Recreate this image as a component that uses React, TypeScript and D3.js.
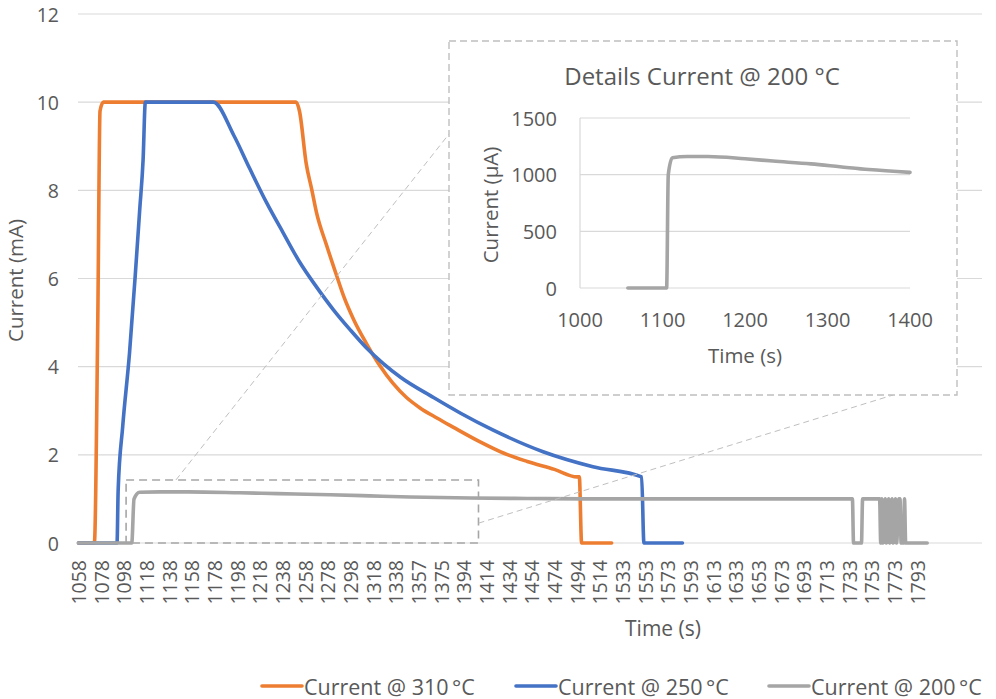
import * as React from 'react';
import * as d3 from 'd3';

// category labels on the time axis (Excel shows every 20th sample)
const tickTimes = [
    1058, 1078, 1098, 1118, 1138, 1158, 1178, 1198, 1218, 1238, 1258, 1278, 1298, 1318, 1338,
    1357, 1375, 1394, 1414, 1434, 1454, 1474, 1494, 1514, 1533, 1553, 1573, 1593, 1613, 1633,
    1653, 1673, 1693, 1713, 1733, 1753, 1773, 1793,
];
const yTicks = [0, 2, 4, 6, 8, 10, 12];

// [time (s), current (mA)]
const current310: [number, number][] = [
    [1058, 0], [1072, 0], [1075, 5], [1077, 9.8], [1080, 10], [1250, 10], [1253, 9.8], [1259, 8.6],
    [1264, 8.0], [1268, 7.5], [1277, 6.75], [1286, 6.05], [1292, 5.6], [1301, 5.06], [1312, 4.53],
    [1324, 4.02], [1347, 3.3], [1358, 3.07], [1372, 2.83], [1385, 2.63], [1408, 2.3], [1430, 2.03],
    [1450, 1.85], [1474, 1.67], [1494, 1.5], [1496, 1.5], [1498, 0], [1524, 0],
];
const current250: [number, number][] = [
    [1058, 0], [1092, 0], [1093, 1.2], [1097, 2.64], [1103, 4.3], [1108, 6.04], [1112, 7.55],
    [1115, 8.69], [1117, 10], [1177, 10], [1195, 9.25], [1209, 8.5], [1224, 7.72], [1239, 7.02],
    [1253, 6.38], [1268, 5.81], [1283, 5.29], [1298, 4.83], [1312, 4.43], [1327, 4.07],
    [1342, 3.76], [1369, 3.3], [1391, 2.95], [1420, 2.56], [1464, 2.07], [1508, 1.73],
    [1550, 1.5], [1552, 0], [1586, 0],
];
const current200: [number, number][] = [
    [1058, 0], [1105, 0], [1107, 1.0], [1112, 1.15], [1130, 1.16], [1155, 1.16], [1200, 1.14],
    [1234, 1.12], [1280, 1.095], [1315, 1.07], [1350, 1.045], [1400, 1.02], [1450, 1.01],
    [1500, 1.0], [1736, 1.0], [1737, 0], [1744, 0], [1745, 1.0], [1760, 1.0], [1761, 0],
    [1762, 1.0], [1763, 0], [1765, 1.0], [1766, 0], [1768, 1.0], [1769, 0], [1771, 1.0],
    [1772, 0], [1774, 1.0], [1775, 0], [1777, 1.0], [1778, 1.0], [1779, 0], [1781, 0],
    [1782, 1.0], [1783, 0], [1802, 0],
];

const seriesNames = ['Current @ 310\u2009°C', 'Current @ 250\u2009°C', 'Current @ 200\u2009°C'];
const seriesColors = ['#ED7D31', '#4472C4', '#A5A5A5'];

// inset axis
const insetXTicks = [1000, 1100, 1200, 1300, 1400];
const insetYTicks = [0, 500, 1000, 1500];
// zoom window drawn on the main chart [t0, t1, top mA]
const zoomWindow = [1100, 1407, 1.43];

const W = 996;
const H = 699;
const font = '"Open Sans", "Noto Sans", sans-serif';
const textColor = '#595959';
const gridColor = '#D9D9D9';

const App: React.FunctionComponent = () => {
    const left = 78;
    const right = 982;
    const step = (917 - 78.5) / (tickTimes.length - 1);
    // piecewise scale: each label interval has the same width
    const x = d3.scaleLinear()
        .domain(tickTimes)
        .range(tickTimes.map((_, i) => 78.5 + i * step));
    const y = d3.scaleLinear().domain([0, 12]).range([543, 14]);

    const line = d3.line<[number, number]>()
        .x(d => x(d[0]))
        .y(d => y(d[1]))
        .curve(d3.curveMonotoneX);

    const allSeries = [current310, current250, current200];

    // inset
    const box = { x: 449, y: 41, w: 508, h: 354 };
    const ix = d3.scaleLinear().domain([1000, 1400]).range([580, 910]);
    const iy = d3.scaleLinear().domain([0, 1500]).range([288, 118]);
    const insetData = current200
        .filter(d => d[0] <= 1400)
        .map(d => [d[0], d[1] * 1000] as [number, number]);
    const insetLine = d3.line<[number, number]>()
        .x(d => ix(d[0]))
        .y(d => iy(d[1]))
        .curve(d3.curveMonotoneX);

    const zx0 = x(zoomWindow[0]);
    const zx1 = x(zoomWindow[1]);
    const zy0 = y(zoomWindow[2]);
    const zy1 = y(0);

    const legendX = [262, 516, 769];

    return (
        <svg width={W} height={H} style={{ position: 'absolute', left: 0, top: 0, background: '#fff' }}
            fontFamily={font}>
            {/* grid */}
            {yTicks.map(t => (
                <line key={t} x1={left} x2={right} y1={y(t)} y2={y(t)} stroke={gridColor} strokeWidth={1.2} />
            ))}
            {yTicks.map(t => (
                <text key={'yl' + t} x={59} y={y(t)} textAnchor="end" dominantBaseline="central"
                    fontSize={19.5} fill={textColor}>{t}</text>
            ))}
            <text transform={`translate(15,${y(6) + 2}) rotate(-90)`} textAnchor="middle" dominantBaseline="central"
                fontSize={20.5} fill={textColor}>Current (mA)</text>

            {tickTimes.map(t => (
                <text key={'xl' + t} transform={`translate(${x(t)},560) rotate(-90)`} textAnchor="end"
                    dominantBaseline="central" fontSize={19.5} fill={textColor}>{t}</text>
            ))}
            <text x={663} y={628} textAnchor="middle" dominantBaseline="central" fontSize={21}
                fill={textColor}>Time (s)</text>

            {/* series, drawn bottom-up like Excel: 200 on top */}
            {allSeries.map((s, i) => (
                <path key={i} d={line(s) as string} fill="none" stroke={seriesColors[i]} strokeWidth={3.6}
                    strokeLinejoin="round" strokeLinecap="round" />
            ))}

            {/* zoom window and connectors */}
            <rect x={zx0} y={zy0} width={zx1 - zx0} height={zy1 - zy0} fill="none" stroke="#A6A6A6"
                strokeWidth={1.6} strokeDasharray="8,5" />
            <line x1={x(1144)} y1={zy0} x2={box.x} y2={134} stroke="#BFBFBF" strokeWidth={1}
                strokeDasharray="6,4" />
            <line x1={zx1} y1={y(0.45)} x2={893} y2={box.y + box.h} stroke="#BFBFBF" strokeWidth={1}
                strokeDasharray="6,4" />

            {/* inset chart */}
            <rect x={box.x} y={box.y} width={box.w} height={box.h} fill="#fff" stroke="#BFBFBF"
                strokeWidth={1.4} strokeDasharray="7,4" />
            <text x={702} y={75} textAnchor="middle" dominantBaseline="central" fontSize={24}
                fill={textColor}>Details Current @ 200 °C</text>
            {insetYTicks.map(t => (
                <line key={'ig' + t} x1={ix(1000)} x2={ix(1400)} y1={iy(t)} y2={iy(t)} stroke={gridColor}
                    strokeWidth={1.2} />
            ))}
            <line x1={ix(1000)} x2={ix(1000)} y1={iy(1500)} y2={iy(0)} stroke={gridColor} strokeWidth={1.2} />
            {insetYTicks.map(t => (
                <text key={'iyl' + t} x={557} y={iy(t)} textAnchor="end" dominantBaseline="central"
                    fontSize={20} fill={textColor}>{t}</text>
            ))}
            {insetXTicks.map(t => (
                <text key={'ixl' + t} x={ix(t)} y={319} textAnchor="middle" dominantBaseline="central"
                    fontSize={20} fill={textColor}>{t}</text>
            ))}
            <text x={745} y={355} textAnchor="middle" dominantBaseline="central" fontSize={20.5}
                fill={textColor}>Time (s)</text>
            <text transform={`translate(490,205) rotate(-90)`} textAnchor="middle" dominantBaseline="central"
                fontSize={20.5} fill={textColor}>Current (µA)</text>
            <path d={insetLine(insetData) as string} fill="none" stroke={seriesColors[2]} strokeWidth={3.6}
                strokeLinejoin="round" strokeLinecap="round" />

            {/* legend */}
            {seriesNames.map((n, i) => (
                <g key={n} transform={`translate(${legendX[i]},686)`}>
                    <line x1={0} x2={40} y1={0} y2={0} stroke={seriesColors[i]} strokeWidth={3.6}
                        strokeLinecap="round" />
                    <text x={42} y={0} dominantBaseline="central" fontSize={21.5} fill={textColor}>{n}</text>
                </g>
            ))}
        </svg>
    );
};

export default App;
